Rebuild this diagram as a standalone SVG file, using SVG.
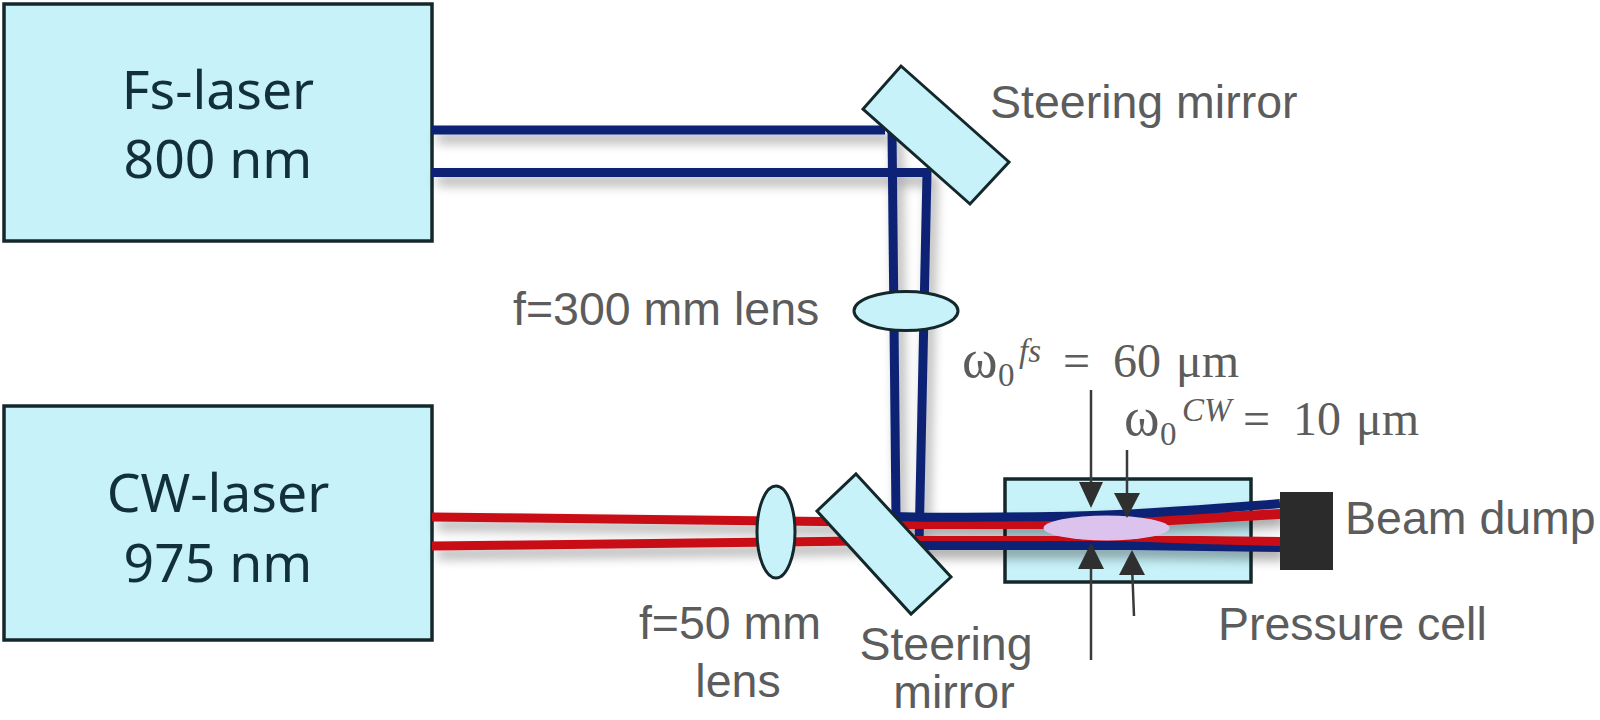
<svg xmlns="http://www.w3.org/2000/svg" width="1600" height="720" viewBox="0 0 1600 720">
<style>
.box{fill:#c7f2f9;stroke:#14282b;stroke-width:3.5}
.part{fill:#c7f2f9;stroke:#14282b;stroke-width:3}
.title{font-family:"Noto Sans","Open Sans",sans-serif;font-size:53.5px;fill:#12303a;text-anchor:middle}
.lbl{font-family:"Liberation Sans",Arial,sans-serif;font-size:46.5px;fill:#5c5c5c}
.math{font-family:"Liberation Serif","DejaVu Serif",serif;fill:#5c5c5c;font-size:48px}
.om{font-size:54px}
.sm{font-size:33px}
.it{font-style:italic}
.blue{fill:none;stroke:#0a2474;stroke-width:9}
.red{fill:none;stroke:#c80c14;stroke-width:9}
.redf{fill:#c80c14}
.ptr{fill:none;stroke:#3a3a3a;stroke-width:2.5}
.head{fill:#2f2f2f}
</style>
<defs>
<filter id="sh" x="-5%" y="-5%" width="110%" height="125%">
<feGaussianBlur in="SourceAlpha" stdDeviation="6"/>
<feOffset dx="5" dy="8"/>
<feComponentTransfer><feFuncA type="linear" slope="0.35"/></feComponentTransfer>
<feMerge><feMergeNode/><feMergeNode in="SourceGraphic"/></feMerge>
</filter>
</defs>
<g id="fs-laser"><rect class="box" x="4" y="4" width="428" height="237"/><text class="title" x="218" y="109">Fs-laser</text><text class="title" x="218" y="178">800 nm</text></g>
<g id="cw-laser"><rect class="box" x="4" y="406" width="428" height="234"/><text class="title" x="218" y="512">CW-laser</text><text class="title" x="218" y="582">975 nm</text></g>
<g id="pressure-cell"><rect class="box" x="1005" y="479" width="246" height="103"/><text class="lbl" x="1218" y="640">Pressure cell</text></g>
<g id="connectors" filter="url(#sh)">
<path class="red" d="M432 517L860 522"/>
<path class="red" d="M432 546L860 541"/>
<path class="blue" d="M432 130H885"/>
<path class="blue" d="M432 172.500H927L919 546"/>
<path class="blue" d="M892 130L896 517"/>
<path class="blue" d="M900 545.500H1130C1180 546 1230 547 1280 547.500"/>
<polygon class="redf" points="880,520 1100,520 1153,516 1280,509 1280,519 1153,526 1100,529 880,529"/>
<polygon class="redf" points="880,536 1120,536 1200,536 1280,537 1280,546 1200,544 1120,541 880,541"/>
<path class="blue" d="M892 516.500C930 518 960 517 1000 517C1050 517 1090 516 1130 514C1180 511 1230 508 1280 503.500"/>
</g>
<g id="beam-dump"><rect x="1280" y="492" width="53" height="78" fill="#2b2b2b"/><text class="lbl" x="1345" y="534">Beam dump</text></g>
<g id="steering-mirror-1"><polygon class="part" points="901,66 1009,162 970,204 863,109"/><text class="lbl" x="990" y="118">Steering mirror</text></g>
<g id="lens-300"><ellipse class="part" cx="906" cy="311" rx="52" ry="19.500"/><text class="lbl" x="513" y="325">f=300 mm lens</text></g>
<g id="lens-50"><ellipse class="part" cx="776" cy="532" rx="19" ry="46"/><text class="lbl" x="730" y="639" text-anchor="middle">f=50 mm</text><text class="lbl" x="738" y="697" text-anchor="middle">lens</text></g>
<g id="steering-mirror-2"><polygon class="part" points="856,474 951,577 911,614 817,511"/><text class="lbl" x="946" y="660" text-anchor="middle">Steering</text><text class="lbl" x="954" y="708" text-anchor="middle">mirror</text></g>
<g id="focus"><ellipse cx="1106.500" cy="528" rx="63" ry="12.500" fill="#dcc3ee"/></g>
<g id="waist-arrows">
<path class="ptr" d="M1091 390V490"/><polygon class="head" points="1079,482 1103,482 1091,508"/>
<path class="ptr" d="M1091 560V660"/><polygon class="head" points="1091,543 1104,569 1078,569"/>
<path class="ptr" d="M1127 450V500"/><polygon class="head" points="1114,493 1140,493 1127,518"/>
<path class="ptr" d="M1132 565L1134 616"/><polygon class="head" points="1132,550 1145,575 1119,575"/>
</g>
<g id="waist-fs"><text class="math om" x="962" y="377">ω</text><text class="math sm" x="998" y="386">0</text><text class="math sm it" x="1019" y="362">fs</text><text class="math" y="377"><tspan x="1063">=</tspan><tspan x="1113">60</tspan><tspan x="1176">μm</tspan></text></g>
<g id="waist-cw"><text class="math om" x="1124" y="435">ω</text><text class="math sm" x="1160" y="445">0</text><text class="math sm it" x="1182" y="421">CW</text><text class="math" y="435"><tspan x="1243">=</tspan><tspan x="1293">10</tspan><tspan x="1356">μm</tspan></text></g>
</svg>
